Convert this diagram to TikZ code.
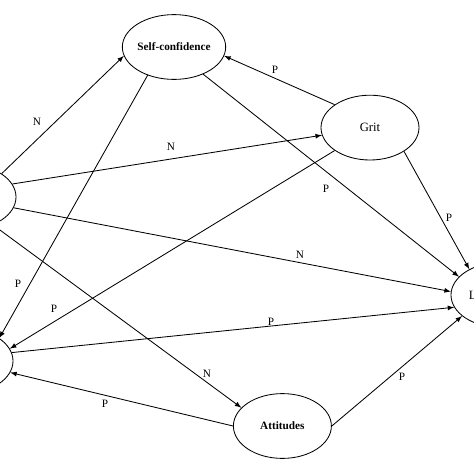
\documentclass[tikz,border=0pt]{standalone}
\usepackage{fontspec}
\setmainfont{Liberation Serif}
\usetikzlibrary{shapes.geometric}

\begin{document}
\begin{tikzpicture}[
	every node/.style={font=\fontsize{8}{9.6}\selectfont},
	var/.style={draw, ellipse, line width=0.6pt, minimum width=2.45cm, minimum height=1.62cm, inner sep=0pt},
	path/.style={line width=0.6pt, -latex},
	sign/.style={font=\fontsize{8}{9.6}\selectfont}
	]
	\clip (0,0) rectangle (11.85,-11.85);
	
	\node[var] (conf) at (4.35,-1.175) {\textbf{Self-confidence}};
	\node[var, font=\fontsize{9}{10.8}\selectfont] (grit) at (9.25,-3.19) {Grit};
	\node[var] (att) at (7.06,-10.65) {\textbf{Attitudes}};
	\node[var] (lang) at (12.5,-7.375) {}; \node[anchor=west, font=\fontsize{9}{10.8}\selectfont] (langtxt) at (11.6,-7.375) {L};
	\node[var] (left1) at (-0.825,-4.925) {};
	\node[var] (left2) at (-0.9,-9.025) {};
	
	\draw[path] (left1.34) -- (conf.190); \node[sign] (n1) at (0.925,-3.05) {N};
	\draw[path] (left1.16) -- (grit.189); \node[sign] (n2) at (4.275,-3.675) {N};
	\draw[path] (left1.-13) -- (lang.176); \node[sign] (n3) at (7.5,-6.375) {N};
	\draw[path] (left1.-47) -- (att.156); \node[sign] (n4) at (5.175,-9.35) {N};
	
	\draw[path] (grit.147) -- (conf.-10); \node[sign] (p1) at (6.875,-1.75) {P};
	\draw[path] (conf.-43) -- (lang.156); \node[sign] (p2) at (8.15,-4.725) {P};
	\draw[path] (grit.-35) -- (lang.140); \node[sign] (p3) at (11.225,-5.45) {P};
	\draw[path] (conf.227) -- (left2.33); \node[sign] (p4) at (0.45,-7.1) {P};
	\draw[path] (grit.213) -- (left2.15); \node[sign] (p5) at (1.35,-7.725) {P};
	\draw[path] (left2.10) -- (lang.195); \node[sign] (p6) at (6.775,-8.05) {P};
	\draw[path] (att.180) -- (left2.-14); \node[sign] (p7) at (2.625,-10.1) {P};
	\draw[path] (att.0) -- (lang.209); \node[sign] (p8) at (10.05,-9.425) {P};
\end{tikzpicture}
\end{document}
